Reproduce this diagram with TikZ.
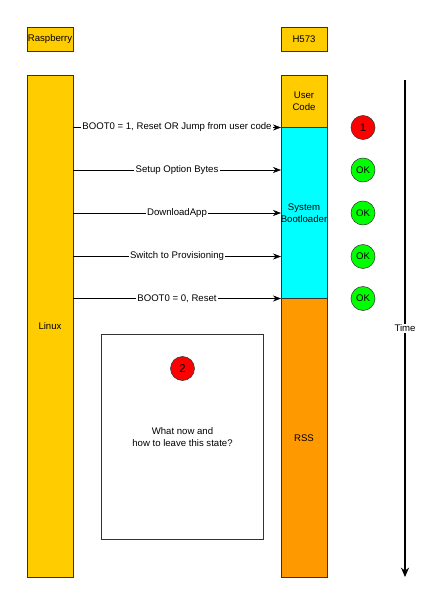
\documentclass[tikz,border=0pt]{standalone}
\usepackage{xcolor}
\usepackage{fontspec}
\setmainfont{Liberation Sans}
\usetikzlibrary{arrows.meta}

\definecolor{gold}{HTML}{FFCC00}
\definecolor{boot}{HTML}{00FFFF}
\definecolor{rss}{HTML}{FF9900}
\definecolor{okgreen}{HTML}{00FF00}
\definecolor{line}{HTML}{333333}

\begin{document}
\begin{tikzpicture}[x=0.75pt, y=-0.75pt,
    font=\fontsize{7.2}{9}\selectfont,
    blk/.style={draw=line, rectangle, outer sep=0pt, inner sep=0pt, align=center},
    msg/.style={draw=black, -{Stealth[length=6pt,width=4.5pt]}},
    lbl/.style={fill=white, inner sep=1pt},
    dot/.style={draw=line, circle, minimum size=18pt, inner sep=0pt}]
    \useasboundingbox (0,0) rectangle (435,601);

    % Headers
    \node[blk, fill=gold, minimum width=34.5pt, minimum height=18pt] (rpi) at (50,39) {Raspberry};
    \node[blk, fill=gold, minimum width=34.5pt, minimum height=18pt] (h5) at (304,39) {H573};

    % Linux lifeline
    \node[blk, fill=gold, minimum width=34.5pt, minimum height=376.5pt] (linux) at (50,326.3) {Linux};

    % H573 states
    \node[blk, fill=gold, minimum width=34.5pt, minimum height=39pt] (user) at (304,101.3) {User\\Code};
    \node[blk, fill=boot, minimum width=34.5pt, minimum height=128.25pt] (boot) at (304,212.8) {System\\\makebox[0pt]{Bootloader}};
    \node[blk, fill=rss, minimum width=34.5pt, minimum height=209.25pt] (rss) at (304,437.8) {RSS};

    % Status markers
    \node[dot, fill=red] (c1) at (363,127.5) {\fontsize{8.5}{10}\selectfont 1};
    \node[dot, fill=okgreen] (c2) at (363,170) {OK};
    \node[dot, fill=okgreen] (c3) at (363,213) {OK};
    \node[dot, fill=okgreen] (c4) at (363,256.5) {OK};
    \node[dot, fill=okgreen] (c5) at (363,298.5) {OK};

    % Messages
    \draw[msg] (linux.east |- c1) -- node[lbl] {BOOT0 = 1, Reset OR Jump from user code} (boot.west |- c1);
    \draw[msg] (linux.east |- c2) -- node[lbl] {Setup Option Bytes} (boot.west |- c2);
    \draw[msg] (linux.east |- c3) -- node[lbl] {DownloadApp} (boot.west |- c3);
    \draw[msg] (linux.east |- c4) -- node[lbl] {Switch to Provisioning} (boot.west |- c4);
    \draw[msg] (linux.east |- c5) -- node[lbl] {BOOT0 = 0, Reset} (boot.west |- c5);

    % Open question
    \node[blk, fill=white, minimum width=121.5pt, minimum height=153.75pt] (question) at (182.5,437) {What now and\\how to leave this state?};
    \node[dot, fill=red] (c6) at (182.5,368.5) {\fontsize{8.5}{10}\selectfont 2};

    % Time axis
    \coordinate (t0) at (405,80);
    \coordinate (t1) at (405,577);
    \draw[line width=1.5pt, -{Stealth[length=7pt,width=6pt]}] (t0) -- node[lbl, pos=0.5] {Time} (t1);
\end{tikzpicture}
\end{document}
